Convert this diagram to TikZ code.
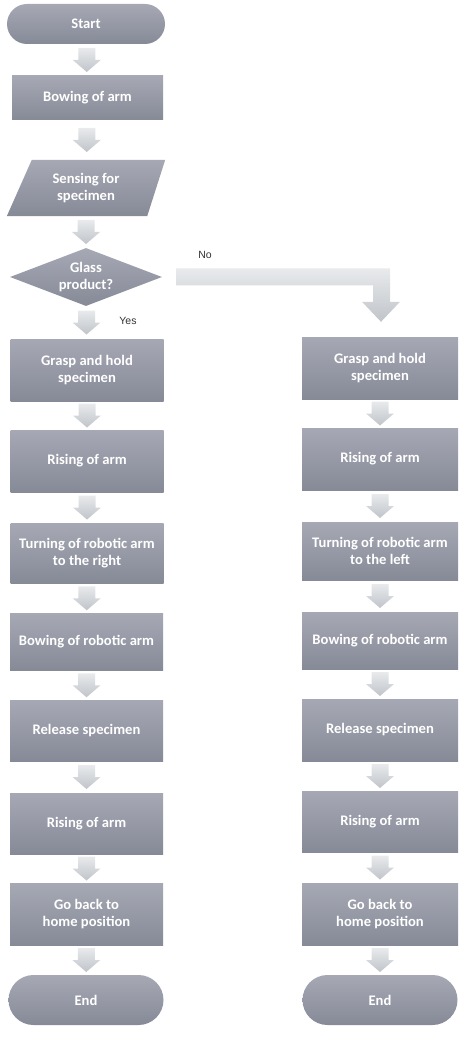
\documentclass[tikz,border=0pt]{standalone}
\usepackage{fontspec}
\setmainfont{Carlito}
\newfontfamily\labelfont{Liberation Sans}
\usetikzlibrary{calc,shapes.geometric,backgrounds}
\definecolor{boxtop}{HTML}{A6A9B4}
\definecolor{boxbot}{HTML}{868A97}
\definecolor{arrtop}{HTML}{E8EAEC}
\definecolor{arrbot}{HTML}{C0C4C9}
\definecolor{lblcol}{HTML}{333333}
\tikzset{
  boxtext/.style={text=white, font=\bfseries\fontsize{14.6}{17}\selectfont, align=center, inner sep=0pt},
  box/.style={boxtext, rectangle, top color=boxtop, bottom color=boxbot, draw=none},
  lbox/.style={box, minimum width=153pt},
  rbox/.style={box, minimum width=156pt},
  term/.style={box, rounded corners=20pt},
  ghost/.style={boxtext, rectangle},
  shapefill/.style={top color=boxtop, bottom color=boxbot, draw=none},
  blockarrow/.style={top color=arrtop, bottom color=arrbot, draw=none},
  lbl/.style={font=\labelfont\fontsize{10.5}{12}\selectfont, text=lblcol, inner sep=0pt}
}
\newcommand\downarr[2]{%
  \path[blockarrow] let \p1=($(#1.south)!0.5!(#2.north)$) in
    (\x1-8.5pt,\y1+12pt) -- (\x1+8.5pt,\y1+12pt) -- (\x1+8.5pt,\y1) --
    (\x1+14pt,\y1) -- (\x1,\y1-12pt) -- (\x1-14pt,\y1) --
    (\x1-8.5pt,\y1) -- cycle;}
\begin{document}
\begin{tikzpicture}[x=1pt,y=-1pt]
\useasboundingbox (0,0) rectangle (463,1040);

% left column
\node[term, minimum width=158pt, minimum height=40pt] (start) at (86,24) {Start};
\node[box, minimum width=151pt, minimum height=44pt] (bow) at (87.5,98) {Bowing of arm};
\node[ghost, minimum width=158pt, minimum height=56pt] (sens) at (86,188) {Sensing for\\specimen};
\node[diamond, shapefill, boxtext, minimum width=152pt, minimum height=58pt, aspect=2.6] (dia) at (86,277) {Glass\\product?};
\node[lbox, minimum height=62pt] (lgrasp) at (87,370) {Grasp and hold\\specimen};
\node[lbox, minimum height=62pt] (lrise) at (87,461) {Rising of arm};
\node[lbox, minimum height=60pt] (lturn) at (87,553) {Turning of robotic arm\\to the right};
\node[lbox, minimum height=57pt] (lbowr) at (86.5,642) {Bowing of robotic arm};
\node[lbox, minimum height=61pt] (lrel) at (86.5,730.5) {Release specimen};
\node[lbox, minimum height=61pt] (lrise2) at (86.5,823.5) {Rising of arm};
\node[lbox, minimum height=62pt] (lhome) at (86.5,914) {Go back to\\home position};
\node[term, minimum width=155pt, minimum height=50pt, rounded corners=25pt] (lend) at (86,1000) {End};

% right column
\node[rbox, minimum height=62pt] (rgrasp) at (380,368) {Grasp and hold\\specimen};
\node[rbox, minimum height=62pt] (rrise) at (380,459) {Rising of arm};
\node[rbox, minimum height=58pt] (rturn) at (380,551) {Turning of robotic arm\\to the left};
\node[rbox, minimum height=57pt] (rbowr) at (380,640.5) {Bowing of robotic arm};
\node[rbox, minimum height=62pt] (rrel) at (380,730) {Release specimen};
\node[rbox, minimum height=61pt] (rrise2) at (380,821.5) {Rising of arm};
\node[rbox, minimum height=62pt] (rhome) at (380,914) {Go back to\\home position};
\node[term, minimum width=155pt, minimum height=50pt, rounded corners=25pt] (rend) at (380,1000) {End};

% parallelogram behind its text
\begin{scope}[on background layer]
  \path[shapefill] ($(sens.north west)+(25,0)$) -- (sens.north east) --
    ($(sens.south east)+(-18,0)$) -- (sens.south west) -- cycle;
\end{scope}

% labels
\node[lbl] (nolbl) at (205,255) {No};
\node[lbl] (yeslbl) at (128,321) {Yes};

% connectors
\downarr{start}{bow}
\downarr{bow}{sens}
\downarr{sens}{dia}
\downarr{dia}{lgrasp}
\downarr{lgrasp}{lrise}
\downarr{lrise}{lturn}
\downarr{lturn}{lbowr}
\downarr{lbowr}{lrel}
\downarr{lrel}{lrise2}
\downarr{lrise2}{lhome}
\downarr{lhome}{lend}
\downarr{rgrasp}{rrise}
\downarr{rrise}{rturn}
\downarr{rturn}{rbowr}
\downarr{rbowr}{rrel}
\downarr{rrel}{rrise2}
\downarr{rrise2}{rhome}
\downarr{rhome}{rend}

% bent "No" arrow
\path[blockarrow] let \p1=(dia.east), \p2=(rgrasp.north) in
  (\x1+14pt,\y1+8.5pt) -- (\x2+10pt,\y1+8.5pt) -- (\x2+10pt,\y2+35pt) --
  (\x2+20pt,\y2+35pt) -- (\x2+1pt,\y2+15pt) -- (\x2-18pt,\y2+35pt) --
  (\x2-7pt,\y2+35pt) -- (\x2-7pt,\y1-8.5pt) -- (\x1+14pt,\y1-8.5pt) -- cycle;
\end{tikzpicture}
\end{document}
